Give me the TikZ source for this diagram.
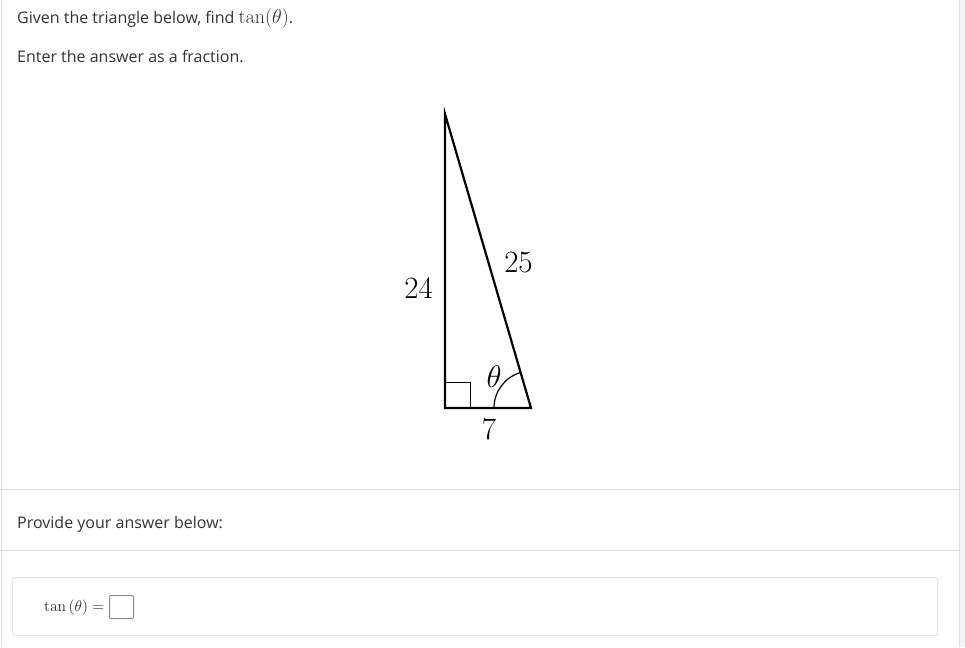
\RequirePackage{fix-cm}
\documentclass[tikz,border=0pt]{standalone}
\usepackage[no-math]{fontspec}
\setmainfont{Open Sans}
\begin{document}
\begin{tikzpicture}[x=1pt,y=-1pt,
  panel/.style={draw=black!13,line width=1pt},
  body/.style={text=black!80,inner sep=0pt,font=\fontsize{16}{19}\selectfont},
  lbl/.style={inner sep=0pt,font=\fontsize{31}{36}\selectfont},
  edge/.style={line width=2.2pt,line join=miter},
  thin/.style={line width=1.2pt}]
\useasboundingbox (0,0) rectangle (965,647);
\fill[white] (0,0) rectangle (965,647);
\fill[black!4] (960,0) rectangle (965,647);
% panel borders
\draw[panel] (1,0) -- (1,647);
\draw[panel] (959.5,0) -- (959.5,647);
\draw[panel] (0,489.5) -- (959.5,489.5);
\draw[panel] (0,550.5) -- (959.5,550.5);
\draw[draw=black!10,line width=1pt,rounded corners=1.5pt] (12.5,577.5) rectangle (937.5,635.5);
% texts
\node[body,anchor=base west] (q1) at (17,24) {Given the triangle below, find {\fontsize{20}{20}\selectfont$\tan(\theta)$}.};
\node[body,anchor=base west] (q2) at (17,63) {Enter the answer as a fraction.};
\node[body,anchor=base west] (q3) at (17,528) {Provide your answer below:};
% triangle
\coordinate (A) at (445,114);
\coordinate (B) at (445,408);
\coordinate (C) at (531,408);
\draw[thin] (445,382.5) -- (470.5,382.5) -- (470.5,408);
\draw[thin] (C) ++(-37,0) arc[start angle=180,end angle=253.7,radius=37];
\draw[edge] (A) -- (B) -- (C) -- cycle;
\node[lbl] (l24) at (418.7,288.5) {$24$};
\node[lbl] (l25) at (518.5,262.5) {$25$};
\node[lbl] (l7) at (489,430) {$7$};
\node[lbl] (lth) at (494,376.5) {$\theta$};
% answer
\node[inner sep=0pt,anchor=base west,font=\fontsize{15.5}{17}\selectfont,text=black!85] (ans) at (44,611) {$\tan\left(\theta\right)=$};
\draw[draw=black!45,line width=1pt,rounded corners=1pt] (109.5,595.5) rectangle (133.5,618.5);
\end{tikzpicture}
\end{document}
